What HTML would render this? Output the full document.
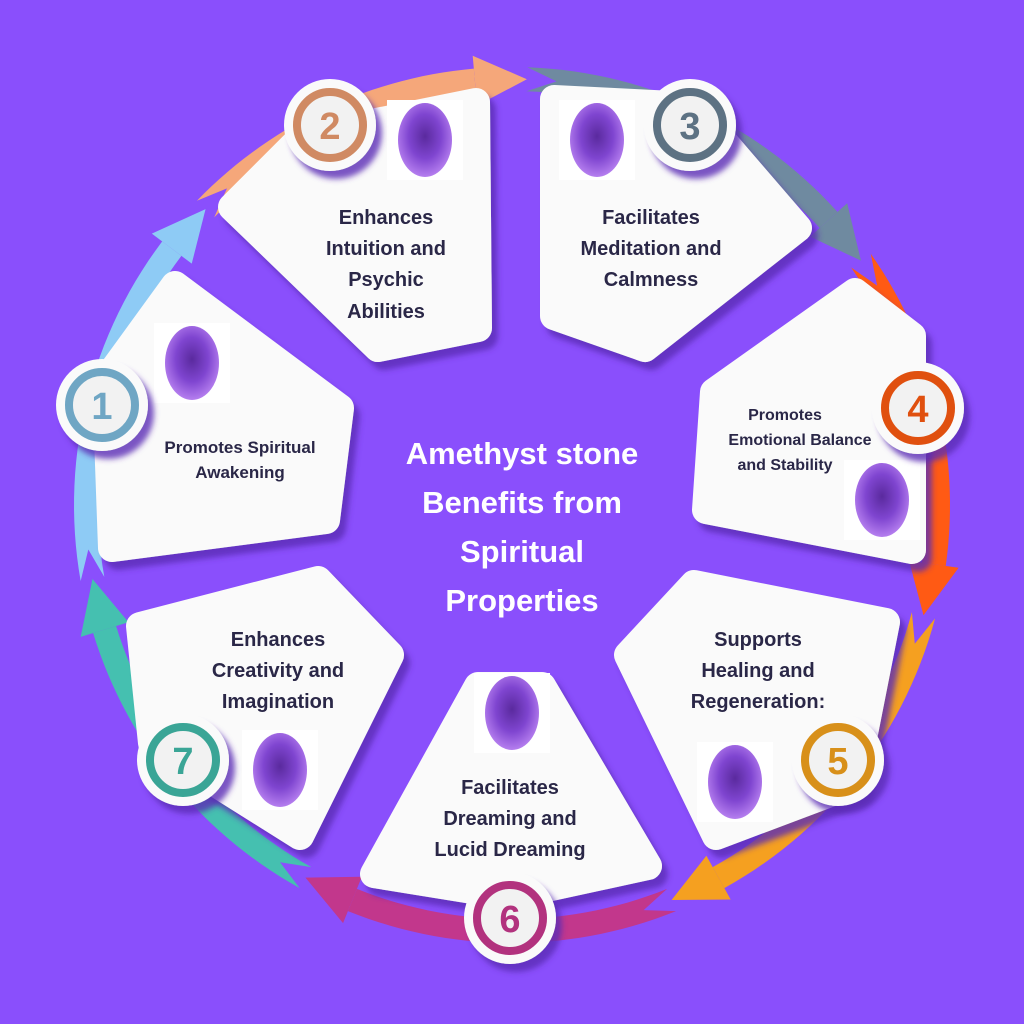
<!DOCTYPE html>
<html><head><meta charset="utf-8"><style>
html,body{margin:0;padding:0;background:#8a4ffc;}
svg{display:block}
text{font-family:"Liberation Sans",sans-serif;font-weight:bold;}
</style></head><body>
<svg id="s" width="1024" height="1024" viewBox="0 0 1024 1024" xmlns="http://www.w3.org/2000/svg">
<defs>
<radialGradient id="gem" cx="50%" cy="45%" r="60%">
<stop offset="0" stop-color="#5a2a9e"/><stop offset="0.5" stop-color="#7f45d0"/><stop offset="1" stop-color="#c08af5"/>
</radialGradient>
<filter id="sh" x="-20%" y="-20%" width="140%" height="140%"><feDropShadow dx="6" dy="8" stdDeviation="3" flood-color="#5a2bb5" flood-opacity="0.8"/></filter>
</defs>
<rect width="1024" height="1024" fill="#8a4ffc"/>
<g id="arcs"></g>
<g fill="#fafafa" stroke="#fafafa" stroke-width="28" stroke-linejoin="round" filter="url(#sh)">
<polygon points="175,285 340,408 326,520 112,548 106,380"/>
<polygon points="232,207 302,137 476,102 478,328 378,348"/>
<polygon points="554,99 693,106 798,228 645,348 554,316"/>
<polygon points="714,392 855,292 912,336 912,550 706,510"/>
<polygon points="628,655 694,584 886,622 854,784 716,836"/>
<polygon points="478,686 542,686 648,866 510,896 374,874"/>
<polygon points="140,626 318,580 390,655 300,836 152,743"/>
</g>
<g id="gems"></g>
<g id="nums"></g>
<g fill="#2a2747" text-anchor="middle">
<text font-size="17" x="240" y="453">Promotes Spiritual</text>
<text font-size="17" x="240" y="478">Awakening</text>
<text font-size="20" x="386" y="224">Enhances</text>
<text font-size="20" x="386" y="255">Intuition and</text>
<text font-size="20" x="386" y="286">Psychic</text>
<text font-size="20" x="386" y="318">Abilities</text>
<text font-size="20" x="651" y="224">Facilitates</text>
<text font-size="20" x="651" y="255">Meditation and</text>
<text font-size="20" x="651" y="286">Calmness</text>
<text font-size="16" x="785" y="420">Promotes</text>
<text font-size="16" x="800" y="445">Emotional Balance</text>
<text font-size="16" x="785" y="470">and Stability</text>
<text font-size="20" x="758" y="646">Supports</text>
<text font-size="20" x="758" y="677">Healing and</text>
<text font-size="20" x="758" y="708">Regeneration:</text>
<text font-size="20" x="510" y="794">Facilitates</text>
<text font-size="20" x="510" y="825">Dreaming and</text>
<text font-size="20" x="510" y="856">Lucid Dreaming</text>
<text font-size="20" x="278" y="646">Enhances</text>
<text font-size="20" x="278" y="677">Creativity and</text>
<text font-size="20" x="278" y="708">Imagination</text>
</g>
<g fill="#ffffff" text-anchor="middle" font-size="31">
<text x="522" y="464">Amethyst stone</text>
<text x="522" y="513">Benefits from</text>
<text x="522" y="562">Spiritual</text>
<text x="522" y="611">Properties</text>
</g>
</svg>
<script>
var NS="http://www.w3.org/2000/svg",cx=512,cy=505,R=426,W=24;
function P(a,r){a=a*Math.PI/180;return [cx+r*Math.cos(a),cy+r*Math.sin(a)];}
function el(t,at,p){var e=document.createElementNS(NS,t);for(var k in at)e.setAttribute(k,at[k]);document.getElementById(p).appendChild(e);return e;}
var segs=[[170,224,"#8ecbf5"],[224,272,"#f5a77a"],[272,325,"#6f8aa0"],[325,375,"#ff5a14"],[375,428,"#f5a020"],[428,479,"#c2378c"],[479,530,"#45c0b0"]];
segs.forEach(function(s){
 var a0=s[0],a1=s[1]-7,pts=[],i,n=30;
 for(i=0;i<=n;i++){var a=a0+(a1-a0)*i/n;pts.push(P(a,R+W/2));}
 for(i=n;i>=0;i--){var a=a0+(a1-a0)*i/n;pts.push(P(a,R-W/2));}
 pts.push(P(a0+4,R));
 var h=[P(a1,R+25),P(s[1],R),P(a1,R-25)];
 el("polygon",{points:pts.map(function(p){return p.join(",")}).join(" "),fill:s[2]},"arcs");
 el("polygon",{points:h.map(function(p){return p.join(",")}).join(" "),fill:s[2]},"arcs");
});
var gems=[[192,363],[425,140],[597,140],[882,500],[735,782],[512,713],[280,770]];
gems.forEach(function(g){
 el("rect",{x:g[0]-38,y:g[1]-40,width:76,height:80,fill:"#fff"},"gems");
 el("ellipse",{cx:g[0],cy:g[1],rx:27,ry:37,fill:"url(#gem)"},"gems");
});
var nums=[[102,405,"#6fa6c4"],[330,125,"#d08a63"],[690,125,"#5d7283"],[918,408,"#e0500f"],[838,760,"#d8901a"],[510,918,"#b2327e"],[183,760,"#3aa596"]];
nums.forEach(function(n,i){
 el("circle",{cx:n[0],cy:n[1],r:46,fill:"#fafafa",filter:"url(#sh)"},"nums");
 el("circle",{cx:n[0],cy:n[1],r:33,fill:"#f2f2f2",stroke:n[2],"stroke-width":8},"nums");
 var t=el("text",{x:n[0],y:n[1]+14,fill:n[2],"font-size":38,"text-anchor":"middle"},"nums");t.textContent=i+1;
});
</script>
</body></html>
